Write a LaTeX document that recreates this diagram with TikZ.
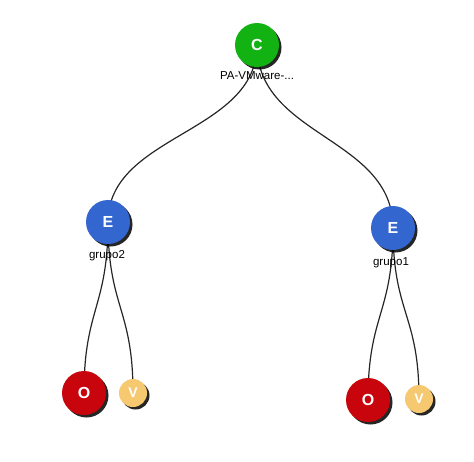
\documentclass[tikz,border=0pt]{standalone}
\usepackage{fontspec}
\setmainfont{Liberation Sans}
\usetikzlibrary{shadows}
\definecolor{cgreen}{RGB}{18,178,18}
\definecolor{cblue}{RGB}{52,102,208}
\definecolor{cred}{RGB}{200,4,12}
\definecolor{cyellow}{RGB}{246,200,112}
\tikzset{
  nd/.style={circle, inner sep=0pt, text=white, font=\bfseries\fontsize{16}{16}\selectfont,
    drop shadow={shadow xshift=2.5pt, shadow yshift=-2.5pt, opacity=0.85, fill=black}},
  big/.style={nd, minimum size=44pt},
  small/.style={nd, minimum size=28pt, font=\bfseries\fontsize{14}{14}\selectfont},
  lbl/.style={font=\fontsize{11.5}{12}\selectfont, text=black, inner sep=0pt},
  edge/.style={draw=black!85, line width=1.2pt}
}
\begin{document}
\begin{tikzpicture}[x=1pt,y=-1pt]
\useasboundingbox (0,0) rectangle (474,461);
% edges
\coordinate (c) at (257,45);
\coordinate (e2) at (108,222);
\coordinate (e1) at (393,228);
\coordinate (o2) at (84,393);
\coordinate (v2) at (133,393);
\coordinate (o1) at (368,400);
\coordinate (v1) at (419,399);
\draw[edge] (c) .. controls (257,134) and (108,134) .. (e2);
\draw[edge] (c) .. controls (257,137) and (393,137) .. (e1);
\draw[edge] (e2) .. controls (108,308) and (84,308) .. (o2);
\draw[edge] (e2) .. controls (108,308) and (133,308) .. (v2);
\draw[edge] (e1) .. controls (393,314) and (368,314) .. (o1);
\draw[edge] (e1) .. controls (393,314) and (419,314) .. (v1);
% nodes
\node[big, fill=cgreen] (C) at (c) {C};
\node[lbl] (Cl) at (257,76) {PA-VMware-...};
\node[big, fill=cblue] (E2) at (e2) {E};
\node[lbl] (E2l) at (107,256) {grupo2};
\node[big, fill=cblue] (E1) at (e1) {E};
\node[lbl] (E1l) at (391,263) {grupo1};
\node[big, fill=cred] (O2) at (o2) {O};
\node[small, fill=cyellow] (V2) at (v2) {V};
\node[big, fill=cred] (O1) at (o1) {O};
\node[small, fill=cyellow] (V1) at (v1) {V};
\end{tikzpicture}
\end{document}
